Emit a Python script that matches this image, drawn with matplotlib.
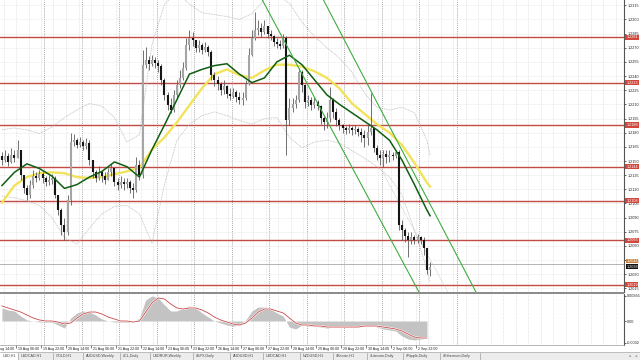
import matplotlib
matplotlib.use("Agg")
import matplotlib.pyplot as plt
import matplotlib.transforms as mtransforms
from matplotlib.patches import Rectangle
import numpy as np

plt.rcParams["font.family"] = ["Liberation Sans", "DejaVu Sans"]

# GBPUSD H1, hours counted from 19 Aug 06:00 (one candle per 2 hours)
first_open = 1.2155
closes = [1.2151, 1.2155, 1.2149, 1.2156, 1.2153, 1.2162, 1.2135, 1.2121, 1.2114, 1.2125,
          1.2134, 1.2132, 1.2136, 1.2132, 1.2128, 1.2130, 1.2132, 1.2114, 1.2098, 1.2082,
          1.2075, 1.2109, 1.2170, 1.2172, 1.2167, 1.2170, 1.2166, 1.2169, 1.2151, 1.2138,
          1.2132, 1.2138, 1.2134, 1.2130, 1.2138, 1.2143, 1.2128, 1.2125, 1.2128, 1.2126,
          1.2128, 1.2121, 1.2119, 1.2146, 1.2135, 1.2252, 1.2257, 1.2253, 1.2257, 1.2254,
          1.2251, 1.2236, 1.2220, 1.2209, 1.2204, 1.2220, 1.2231, 1.2238, 1.2249, 1.2273,
          1.2280, 1.2278, 1.2270, 1.2273, 1.2268, 1.2271, 1.2265, 1.2241, 1.2236, 1.2232,
          1.2225, 1.2229, 1.2221, 1.2219, 1.2223, 1.2218, 1.2215, 1.2217, 1.2232, 1.2262,
          1.2280, 1.2289, 1.2291, 1.2287, 1.2293, 1.2285, 1.2282, 1.2276, 1.2274, 1.2272,
          1.2280, 1.2193, 1.2206, 1.2210, 1.2215, 1.2244, 1.2231, 1.2212, 1.2215, 1.2209,
          1.2212, 1.2208, 1.2196, 1.2191, 1.2196, 1.2215, 1.2202, 1.2193, 1.2188, 1.2185,
          1.2183, 1.2185, 1.2183, 1.2184, 1.2181, 1.2178, 1.2174, 1.2181, 1.2185, 1.2164,
          1.2156, 1.2153, 1.2157, 1.2154, 1.2156, 1.2155, 1.2160, 1.2082, 1.2077, 1.2071,
          1.2066, 1.2069, 1.2066, 1.2069, 1.2066, 1.2058, 1.2035, 1.2038]
highs = [1.2160, 1.2162, 1.2158, 1.2164, 1.2162, 1.2172, 1.2162, 1.2135, 1.2125, 1.2130,
         1.2140, 1.2138, 1.2140, 1.2138, 1.2134, 1.2135, 1.2136, 1.2134, 1.2114, 1.2100,
         1.2090, 1.2114, 1.2180, 1.2179, 1.2174, 1.2175, 1.2172, 1.2174, 1.2172, 1.2151,
         1.2140, 1.2145, 1.2140, 1.2138, 1.2143, 1.2147, 1.2143, 1.2132, 1.2134, 1.2132,
         1.2132, 1.2130, 1.2127, 1.2154, 1.2151, 1.2268, 1.2271, 1.2261, 1.2262, 1.2260,
         1.2257, 1.2253, 1.2238, 1.2223, 1.2217, 1.2225, 1.2236, 1.2246, 1.2255, 1.2280,
         1.2289, 1.2287, 1.2278, 1.2278, 1.2275, 1.2276, 1.2273, 1.2268, 1.2244, 1.2240,
         1.2234, 1.2236, 1.2231, 1.2227, 1.2227, 1.2225, 1.2223, 1.2223, 1.2236, 1.2270,
         1.2289, 1.2308, 1.2299, 1.2296, 1.2299, 1.2292, 1.2289, 1.2283, 1.2280, 1.2278,
         1.2285, 1.2282, 1.2217, 1.2217, 1.2220, 1.2249, 1.2246, 1.2232, 1.2220, 1.2218,
         1.2218, 1.2215, 1.2209, 1.2199, 1.2202, 1.2228, 1.2217, 1.2206, 1.2196, 1.2189,
         1.2187, 1.2189, 1.2187, 1.2188, 1.2186, 1.2185, 1.2183, 1.2188, 1.2222, 1.2185,
         1.2167, 1.2162, 1.2162, 1.2162, 1.2162, 1.2160, 1.2162, 1.2162, 1.2088, 1.2079,
         1.2075, 1.2075, 1.2072, 1.2073, 1.2071, 1.2069, 1.2056, 1.2043]
lows = [1.2146, 1.2149, 1.2145, 1.2148, 1.2149, 1.2153, 1.2130, 1.2116, 1.2109, 1.2111,
        1.2121, 1.2128, 1.2130, 1.2127, 1.2124, 1.2125, 1.2126, 1.2111, 1.2093, 1.2072,
        1.2066, 1.2072, 1.2103, 1.2166, 1.2164, 1.2165, 1.2162, 1.2163, 1.2146, 1.2132,
        1.2128, 1.2130, 1.2128, 1.2126, 1.2130, 1.2134, 1.2124, 1.2119, 1.2121, 1.2119,
        1.2121, 1.2116, 1.2111, 1.2117, 1.2130, 1.2132, 1.2249, 1.2246, 1.2251, 1.2249,
        1.2244, 1.2231, 1.2215, 1.2204, 1.2201, 1.2202, 1.2217, 1.2227, 1.2236, 1.2246,
        1.2268, 1.2272, 1.2265, 1.2265, 1.2263, 1.2265, 1.2261, 1.2236, 1.2229, 1.2225,
        1.2220, 1.2221, 1.2217, 1.2215, 1.2217, 1.2212, 1.2210, 1.2209, 1.2215, 1.2231,
        1.2261, 1.2278, 1.2283, 1.2281, 1.2285, 1.2280, 1.2278, 1.2272, 1.2270, 1.2269,
        1.2270, 1.2156, 1.2188, 1.2202, 1.2206, 1.2212, 1.2223, 1.2206, 1.2208, 1.2204,
        1.2206, 1.2204, 1.2189, 1.2183, 1.2185, 1.2191, 1.2196, 1.2187, 1.2183, 1.2180,
        1.2179, 1.2180, 1.2178, 1.2179, 1.2176, 1.2170, 1.2165, 1.2167, 1.2178, 1.2160,
        1.2151, 1.2146, 1.2144, 1.2148, 1.2149, 1.2151, 1.2153, 1.2077, 1.2066, 1.2064,
        1.2048, 1.2062, 1.2062, 1.2063, 1.2062, 1.2050, 1.2030, 1.2028]
candle_hours = list(range(-9, 266, 2))

# moving averages and bands, read every 8 hours
ma_hours = list(range(-9, 264, 8)) + [265]
ma_fast = [1.2124, 1.2138, 1.2147, 1.2142, 1.2134, 1.2121, 1.2125, 1.2133, 1.2139, 1.2149,
           1.2144, 1.2133, 1.2162, 1.2188, 1.2215, 1.2242, 1.2247, 1.2251, 1.2253, 1.2242,
           1.2233, 1.2238, 1.2255, 1.2262, 1.2252, 1.2236, 1.2220, 1.2210, 1.2201, 1.2192,
           1.2183, 1.2172, 1.2151, 1.2125, 1.2098, 1.2092]
ma_slow = [1.2106, 1.2124, 1.2133, 1.2137, 1.2138, 1.2137, 1.2133, 1.2132, 1.2133, 1.2136,
           1.2139, 1.2143, 1.2162, 1.2175, 1.2191, 1.2209, 1.2227, 1.2242, 1.2247, 1.2241,
           1.2238, 1.2246, 1.2252, 1.2252, 1.2250, 1.2245, 1.2238, 1.2227, 1.2211, 1.2200,
           1.2189, 1.2180, 1.2167, 1.2148, 1.2127, 1.2123]
band_upper = [1.2183, 1.2185, 1.2183, 1.2179, 1.2186, 1.2196, 1.2204, 1.2211, 1.2208, 1.2196,
              1.2170, 1.2178, 1.2273, 1.2316, 1.2329, 1.2316, 1.2307, 1.2305, 1.2303, 1.2300,
              1.2306, 1.2321, 1.2326, 1.2317, 1.2297, 1.2282, 1.2270, 1.2259, 1.2244, 1.2222,
              1.2207, 1.2204, 1.2207, 1.2201, 1.2172, 1.2156]
band_lower = [1.2113, 1.2111, 1.2108, 1.2103, 1.2090, 1.2069, 1.2062, 1.2079, 1.2094, 1.2102,
              1.2103, 1.2094, 1.2063, 1.2125, 1.2172, 1.2189, 1.2198, 1.2202, 1.2198, 1.2193,
              1.2189, 1.2195, 1.2196, 1.2175, 1.2164, 1.2170, 1.2172, 1.2169, 1.2161, 1.2153,
              1.2144, 1.2133, 1.2114, 1.2077, 1.2035, 1.2022]

# trend channel
chan_low_hours = [150, 280]
chan_low_prices = [1.2344, 1.1943]
chan_high_hours = [190, 320]
chan_high_prices = [1.2342, 1.1930]
chan_mid_hours = [234, 284]
chan_mid_prices = [1.2140, 1.1988]

levels = [1.2281, 1.2233, 1.2188, 1.2144, 1.2108, 1.2066, 1.2019]
bid = 1.2038
ask_line = 1.2041
ask_label = 1.2044

# MACD, read every 4 hours
macd_hours = list(range(-9, 264, 4))
macd_hist = [0.00190, 0.00161, 0.00146, 0.00073, 0.00015, 0.0, -0.00015, -0.00015, -0.00015, -0.00058,
             -0.00102, 0.00044, 0.00117, 0.00146, 0.00131, 0.00088, 0.00029, 0.0, -0.00015, -0.00015,
             -0.00015, -0.00015, 0.00044, 0.00307, 0.00365, 0.00336, 0.00234, 0.00146, 0.00146, 0.00190,
             0.00219, 0.00190, 0.00117, 0.00058, 0.0, -0.00029, -0.00058, -0.00073, -0.00058, 0.00015,
             0.00146, 0.00204, 0.00204, 0.00175, 0.00117, 0.00073, -0.00088, -0.00117, -0.00058, -0.00073,
             -0.00073, -0.00088, -0.00102, -0.00088, -0.00088, -0.00088, -0.00088, -0.00088, -0.00073, -0.00058,
             -0.00088, -0.00117, -0.00131, -0.00146, -0.00219, -0.00263, -0.00277, -0.00263, -0.00248]
macd_signal = [0.00219, 0.00190, 0.00161, 0.00131, 0.00088, 0.00044, 0.00015, 0.0, 0.0, -0.00015,
               -0.00044, -0.00029, 0.00044, 0.00102, 0.00131, 0.00131, 0.00102, 0.00058, 0.00029, 0.0,
               0.0, -0.00015, 0.0, 0.00131, 0.00263, 0.00336, 0.00321, 0.00248, 0.00190, 0.00175,
               0.00190, 0.00190, 0.00161, 0.00117, 0.00058, 0.00015, -0.00015, -0.00044, -0.00058, -0.00029,
               0.00044, 0.00131, 0.00175, 0.00175, 0.00146, 0.00117, 0.00044, -0.00029, -0.00058, -0.00058,
               -0.00073, -0.00073, -0.00088, -0.00088, -0.00088, -0.00088, -0.00088, -0.00088, -0.00073, -0.00073,
               -0.00073, -0.00088, -0.00102, -0.00117, -0.00146, -0.00190, -0.00234, -0.00248, -0.00248]

date_labels = ["16 Aug 14:00", "19 Aug 06:00", "19 Aug 22:00", "20 Aug 14:00", "21 Aug 06:00",
               "21 Aug 22:00", "22 Aug 14:00", "23 Aug 06:00", "23 Aug 22:00", "26 Aug 14:00",
               "27 Aug 06:00", "27 Aug 22:00", "28 Aug 14:00", "29 Aug 06:00", "29 Aug 22:00",
               "30 Aug 14:00", "2 Sep 06:00", "2 Sep 22:00"]
date_hours = list(range(-16, 257, 16))
day_starts = list(range(18, 283, 24))

tabs = ["USD,H1", "USDCAD,H1", "GOLD,H1", "AUDUSD,Weekly", "#CL,Daily", "USDRUR,Weekly",
        "#SPX,Daily", "AUDUSD,H1", "USDCAD,H1", "NZDUSD,H1", "#Bitcoin,H1", "#Litecoin,Daily",
        "#Ripple,Daily", "#Ethereum,Daily"]
tab_edges = [0, 18, 53, 83, 120, 150, 193, 230, 263, 300, 333, 367, 403, 440, 480]

price_ticks = [1.2315 - 0.0015 * k for k in range(21)]

W, H = 640, 360
FS = 2.7


def box(x0, y0, x1, y1):
    return [x0 / W, 1 - y1 / H, (x1 - x0) / W, (y1 - y0) / H]


fig = plt.figure(figsize=(6.4, 3.6), dpi=100)
fig.patch.set_facecolor("white")
ax = fig.add_axes(box(0, 0, 624, 291.5))
axm = fig.add_axes(box(0, 294, 624, 345), sharex=ax)

ax.set_xlim(-10.24, 389.12)
ax.set_ylim(1.20118, 1.23205)
axm.set_ylim(-0.0035, 0.00394)

# grid and day separators
for a in (ax, axm):
    for h in range(-8, 390, 8):
        a.axvline(h, color="#dadada", lw=0.5, ls=(0, (1, 1)), zorder=0)
    for h in day_starts:
        a.axvline(h, color="#8a8a8a", lw=0.6, ls=(0, (1, 1.5)), zorder=0)
for p in price_ticks:
    ax.axhline(p, color="#e2e2e2", lw=0.5, ls=(0, (1, 1)), zorder=0)

# levels
for p in levels:
    ax.axhline(p, color="#c24a45", lw=1.0, zorder=2)
ax.axhline(ask_line, color="#a8a8a8", lw=0.6, zorder=2)

# bands and averages
ax.plot(ma_hours, band_upper, color="#b8b8b8", lw=0.6, ls=(0, (1, 1)), zorder=3)
ax.plot(ma_hours, band_lower, color="#b8b8b8", lw=0.6, ls=(0, (1, 1)), zorder=3)
ax.plot(chan_mid_hours, chan_mid_prices, color="#bcbcbc", lw=0.5, ls=(0, (1, 1)), zorder=3)
ax.plot(ma_hours, ma_slow, color="#f2e35a", lw=1.7, zorder=4)

# candles
o = np.array([first_open] + closes[:-1])
c = np.array(closes)
hi = np.maximum(np.array(highs), np.maximum(o, c))
lo = np.minimum(np.array(lows), np.minimum(o, c))
t = np.array(candle_hours)
up = c >= o
ax.vlines(t, lo, hi, color="#5a5a5a", lw=0.6, zorder=5)
ax.vlines(t[up], o[up], c[up], color="#a5a5a5", lw=1.5, zorder=6)
ax.vlines(t[~up], o[~up], c[~up], color="#151515", lw=1.5, zorder=6)

ax.plot(ma_hours, ma_fast, color="#0f5e12", lw=1.1, zorder=7)
ax.plot(chan_low_hours, chan_low_prices, color="#3fae3f", lw=0.8, zorder=7)
ax.plot(chan_high_hours, chan_high_prices, color="#3fae3f", lw=0.8, zorder=7)

# price scale
ax.yaxis.tick_right()
ax.set_yticks(price_ticks)
ax.set_yticklabels([f"{p:.4f}" for p in price_ticks])
ax.tick_params(axis="y", labelsize=FS, length=1.5, width=0.5, pad=0.8, colors="#222222")
ax.tick_params(axis="x", bottom=False, labelbottom=False)
for s in ("top", "left", "bottom"):
    ax.spines[s].set_visible(False)
ax.spines["right"].set_color("#555555")
ax.spines["right"].set_linewidth(0.8)

tr = mtransforms.blended_transform_factory(ax.transAxes, ax.transData)
lab_kw = dict(transform=tr, ha="left", va="center", fontsize=FS, color="white", clip_on=False)
for p in levels:
    ax.text(1.0035, p, f"{p:.4f}", zorder=20,
            bbox=dict(boxstyle="square,pad=0.2", fc="#d2473c", ec="none"), **lab_kw)
ax.text(1.0035, ask_label, f"{ask_label:.4f}", zorder=20,
        bbox=dict(boxstyle="square,pad=0.1", fc="#c9803c", ec="none"), **lab_kw)
ax.text(1.0035, bid, f"{bid:.4f}", zorder=21,
        bbox=dict(boxstyle="square,pad=0.1", fc="#111111", ec="none"), **lab_kw)

# MACD pane
axm.fill_between(macd_hours, 0, macd_hist, color="#c3c3c3", lw=0, zorder=2)
axm.plot(macd_hours, macd_signal, color="white", lw=1.4, zorder=3)
axm.plot(macd_hours, macd_signal, color="#c94848", lw=0.6, zorder=4)
axm.yaxis.tick_right()
axm.set_yticks([0.00365, 0.0, -0.0032])
axm.set_yticklabels(["0.00365", "0.00", "-0.0032"])
axm.tick_params(axis="y", labelsize=FS, length=1.5, width=0.5, pad=0.8, colors="#222222")
axm.set_xticks([h for h in date_hours if h > -10])
axm.tick_params(axis="x", length=2, width=0.5, labelbottom=False, colors="#444444")
for s in ("top", "left"):
    axm.spines[s].set_visible(False)
axm.spines["bottom"].set_color("#9a9a9a")
axm.spines["bottom"].set_linewidth(0.5)
axm.spines["right"].set_color("#555555")
axm.spines["right"].set_linewidth(0.8)

trd = mtransforms.blended_transform_factory(axm.transData, axm.transAxes)
for h, lab in zip(date_hours, date_labels):
    axm.text(h + 1, -0.03, lab, transform=trd, ha="left", va="top", fontsize=2.6,
             color="#222222", clip_on=False)

# pane separator
fig.add_artist(Rectangle((0, 1 - 294 / H), 624 / W, 2.5 / H, transform=fig.transFigure,
                         fc="#8c8c8c", ec="none"))

# tab bar
fig.add_artist(Rectangle((0, 0), 1, 8 / H, transform=fig.transFigure, fc="#ececec", ec="none"))
fig.add_artist(plt.Line2D([0, 1], [8 / H, 8 / H], transform=fig.transFigure, color="#a8a8a8", lw=0.5))
fig.add_artist(Rectangle((0, 0), tab_edges[1] / W, 8 / H, transform=fig.transFigure,
                         fc="white", ec="none"))
for i, name in enumerate(tabs):
    x0 = tab_edges[i]
    fig.text((x0 + 2.5) / W, 4 / H, name, ha="left", va="center", fontsize=FS, color="#444444")
    fig.add_artist(plt.Line2D([tab_edges[i + 1] / W] * 2, [0.5 / H, 7.5 / H],
                              transform=fig.transFigure, color="#a0a0a0", lw=0.5))
fig.text(629 / W, 4 / H, "\u25c4", ha="center", va="center", fontsize=2.5, color="#777777")
fig.text(636 / W, 4 / H, "\u25ba", ha="center", va="center", fontsize=2.5, color="#777777")

fig.savefig("out.png", dpi=100)
